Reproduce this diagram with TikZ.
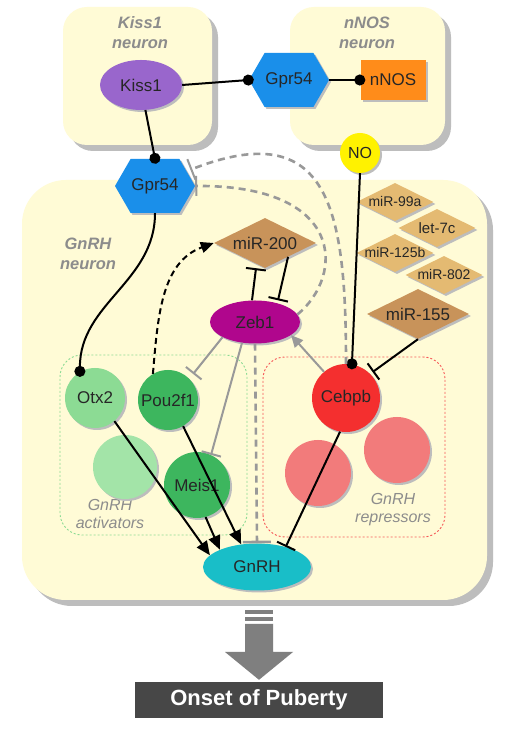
\documentclass[tikz,border=0pt]{standalone}
\usepackage{fontspec}
\setmainfont{Liberation Sans}
\definecolor{BoxYellow}{HTML}{FFFBD6}
\definecolor{ShadowGray}{HTML}{BDBDBD}
\definecolor{LabelGray}{HTML}{8C8C8C}
\definecolor{KissPurple}{HTML}{9966CC}
\definecolor{GprBlue}{HTML}{1A8FEA}
\definecolor{NosOrange}{HTML}{FF8C1A}
\definecolor{NoYellow}{HTML}{FFF200}
\definecolor{MirBrown}{HTML}{C8935A}
\definecolor{MirTan}{HTML}{E4BA72}
\definecolor{ZebMagenta}{HTML}{B0068D}
\definecolor{ActGreen}{HTML}{3DB65E}
\definecolor{ActMid}{HTML}{8CDB94}
\definecolor{ActLight}{HTML}{A3E4A8}
\definecolor{RepRed}{HTML}{F42F2F}
\definecolor{RepPink}{HTML}{F27B7B}
\definecolor{GnrhTeal}{HTML}{19BEC8}
\definecolor{LinkGray}{HTML}{999999}
\definecolor{ArrowGray}{HTML}{7F7F7F}
\definecolor{PubertyGray}{HTML}{474747}
\usepackage{tikz}
\usetikzlibrary{arrows.meta,positioning,shapes.geometric,shapes.symbols,shadows}

\begin{document}
\begin{tikzpicture}[x=1pt,y=1pt,
        neuronbox/.style={fill=BoxYellow,rounded corners=24pt,
                     drop shadow={shadow xshift=6pt,shadow yshift=-6pt,
                                  fill=ShadowGray,opacity=1}},
        neuronlbl/.style={text=LabelGray,align=center,
                     font=\fontsize{16.5}{20}\selectfont\bfseries\itshape},
        grouplbl/.style={text=LabelGray,align=center,
                     font=\fontsize{16}{18}\selectfont\itshape},
        groupbox/.style={rounded corners=22pt,line width=0.9pt,
                     dash pattern=on 2pt off 2pt},
        gene/.style={font=\fontsize{17}{19}\selectfont,text=black!85,
                     inner sep=0pt,
                     drop shadow={shadow xshift=2pt,shadow yshift=-2pt,
                                  fill=ShadowGray,opacity=1}},
        oval/.style={gene,ellipse},
        blob/.style={gene,circle},
        hexa/.style={gene,signal,signal to=west and east,
                     signal pointer angle=120,fill=GprBlue,
                     minimum width=80pt,minimum height=54pt},
        mirbig/.style={gene,diamond,aspect=2,fill=MirBrown,
                     minimum width=102pt,minimum height=50pt},
        mirsmall/.style={gene,diamond,aspect=2,fill=MirTan,
                     font=\fontsize{14}{16}\selectfont,
                     minimum width=77pt,minimum height=38pt},
        link/.style={line width=2pt,black},
        ball/.style={link,-{Circle[length=11pt]},shorten >=-5pt},
        act/.style={link,-{Triangle[length=14pt,width=12pt]}},
        inh/.style={link,-{Bar[width=20pt]}},
        ginh/.style={line width=2pt,LinkGray,-{Bar[width=20pt]}},
        gact/.style={line width=2pt,LinkGray,-{Triangle[length=12pt,width=11pt]}},
        gdash/.style={line width=2.6pt,LinkGray,dash pattern=on 7pt off 5pt}]
  \useasboundingbox[fill=white] (0,0) rectangle (510,730);
  % neurons
  \path[neuronbox] (63,585) rectangle (212,723);
  \path[neuronbox] (290,585) rectangle (445,723);
  \path[neuronbox,rounded corners=44pt] (22,130) rectangle (487,550);
  \node[neuronlbl] (kisslbl) at (140,697) {Kiss1\\neuron};
  \node[neuronlbl] (noslbl) at (367,697) {nNOS\\neuron};
  \node[neuronlbl] (gnrhlbl) at (88,476) {GnRH\\neuron};
  % activators / repressors
  \draw[groupbox,ActMid] (60,195) rectangle (247,375);
  \draw[groupbox,RepRed!80] (263,193) rectangle (445,373);
  \node[grouplbl] (actlbl) at (110,216) {GnRH\\activators};
  \node[grouplbl] (replbl) at (393,220) {GnRH\\repressors};

  \node[oval,fill=KissPurple,minimum width=82pt,minimum height=50pt] (kiss1) at (141,645) {Kiss1};
  \node[hexa] (gpr54a) at (289,650) {Gpr54};
  \node[gene,fill=NosOrange,minimum width=65pt,minimum height=40pt] (nnos) at (393,650) {nNOS};
  \node[hexa] (gpr54b) at (155,544) {Gpr54};
  \node[blob,fill=NoYellow,minimum size=40pt,font=\fontsize{16}{18}\selectfont] (no) at (360,577) {NO};
  \node[mirbig] (mir200) at (265,487) {miR-200};
  \node[oval,fill=ZebMagenta,minimum width=90pt,minimum height=43pt] (zeb1) at (255,408) {Zeb1};
  \node[mirsmall] (mir99a) at (395,528) {\makebox[0pt]{miR-99a}};
  \node[mirsmall,font=\fontsize{15}{17}\selectfont] (let7c) at (437,502) {\makebox[0pt]{let-7c}};
  \node[mirsmall] (mir125b) at (395,477) {\makebox[0pt]{miR-125b}};
  \node[mirsmall] (mir802) at (444,455) {\makebox[0pt]{miR-802}};
  \node[mirbig] (mir155) at (418,416) {miR-155};
  \node[blob,fill=ActMid,minimum size=60pt] (otx2) at (95,332) {Otx2};
  \node[blob,fill=ActGreen,minimum size=60pt] (pou2f1) at (168,330) {Pou2f1};
  \node[blob,fill=ActLight,minimum size=64pt] (actx) at (125,263) {};
  \node[blob,fill=ActGreen,minimum size=66pt] (meis1) at (197,245) {Meis1};
  \node[blob,fill=RepRed,minimum size=68pt] (cebpb) at (346,332) {Cebpb};
  \node[blob,fill=RepPink,minimum size=66pt] (repx) at (318,257) {};
  \node[blob,fill=RepPink,minimum size=66pt] (repy) at (397,280) {};
  \node[oval,fill=GnrhTeal,minimum width=108pt,minimum height=47pt] (gnrh) at (257,163) {GnRH};

  % binding
  \draw[ball] (kiss1.east) -- (gpr54a.west);
  \draw[ball] (gpr54a.east) -- (nnos.west);
  \draw[ball] (kiss1.-80) -- (gpr54b.north);
  \draw[ball] (gpr54b.south) to[out=-90,in=90] (otx2.120);
  \draw[ball] (no.south) -- (cebpb.80);
  % repression
  \draw[inh] ([xshift=-3pt]zeb1.north) -- ([xshift=-9pt]mir200.south);
  \draw[inh] (mir200.-31) -- ([xshift=23pt]zeb1.north);
  \draw[inh,shorten >=3pt] (mir155.south) -- (cebpb.45);
  \draw[inh] (cebpb.-100) -- (gnrh.35);
  \draw[ginh,shorten >=6pt] (zeb1.205) -- (pou2f1.45);
  \draw[ginh] (zeb1.238) -- (meis1.65);
  \draw[gdash,-{Bar[width=28pt,line width=2.6pt]}] (zeb1.south) -- (gnrh.north);
  \draw[gdash,-{Bar[width=20pt,line width=2pt]}] (zeb1.10)
        .. controls (345,455) and (345,545) .. (gpr54b.east);
  \draw[gdash,-{Bar[width=22pt,line width=2pt]},shorten >=4pt] (cebpb.north)
        .. controls (346,520) and (330,615) .. (gpr54b.25);
  % activation
  \draw[link,dash pattern=on 6pt off 4pt,-{Triangle[length=13pt,width=11pt]}]
        (pou2f1.120) to[out=85,in=200] (mir200.west);
  \draw[gact] (cebpb.130) -- (zeb1.-20);
  \foreach \a/\b in {otx2.-50/gnrh.166,pou2f1.-60/gnrh.125,meis1.-75/gnrh.155}{
    \draw[act] (\a) -- (\b);
  }

  % outcome
  \node[fill=PubertyGray,text=white,minimum width=248pt,minimum height=36pt,
        font=\fontsize{22}{24}\selectfont\bfseries] (onset) at (259,30) {Onset of Puberty};
  \fill[ArrowGray] (245,116) rectangle (273,120);
  \fill[ArrowGray] (245,109) rectangle (273,113);
  \fill[ArrowGray] (245,106) -- (273,106) -- (273,78) -- (293,78)
        -- ([yshift=2pt]onset.north) -- (225,78) -- (245,78) -- cycle;
\end{tikzpicture}
\end{document}
